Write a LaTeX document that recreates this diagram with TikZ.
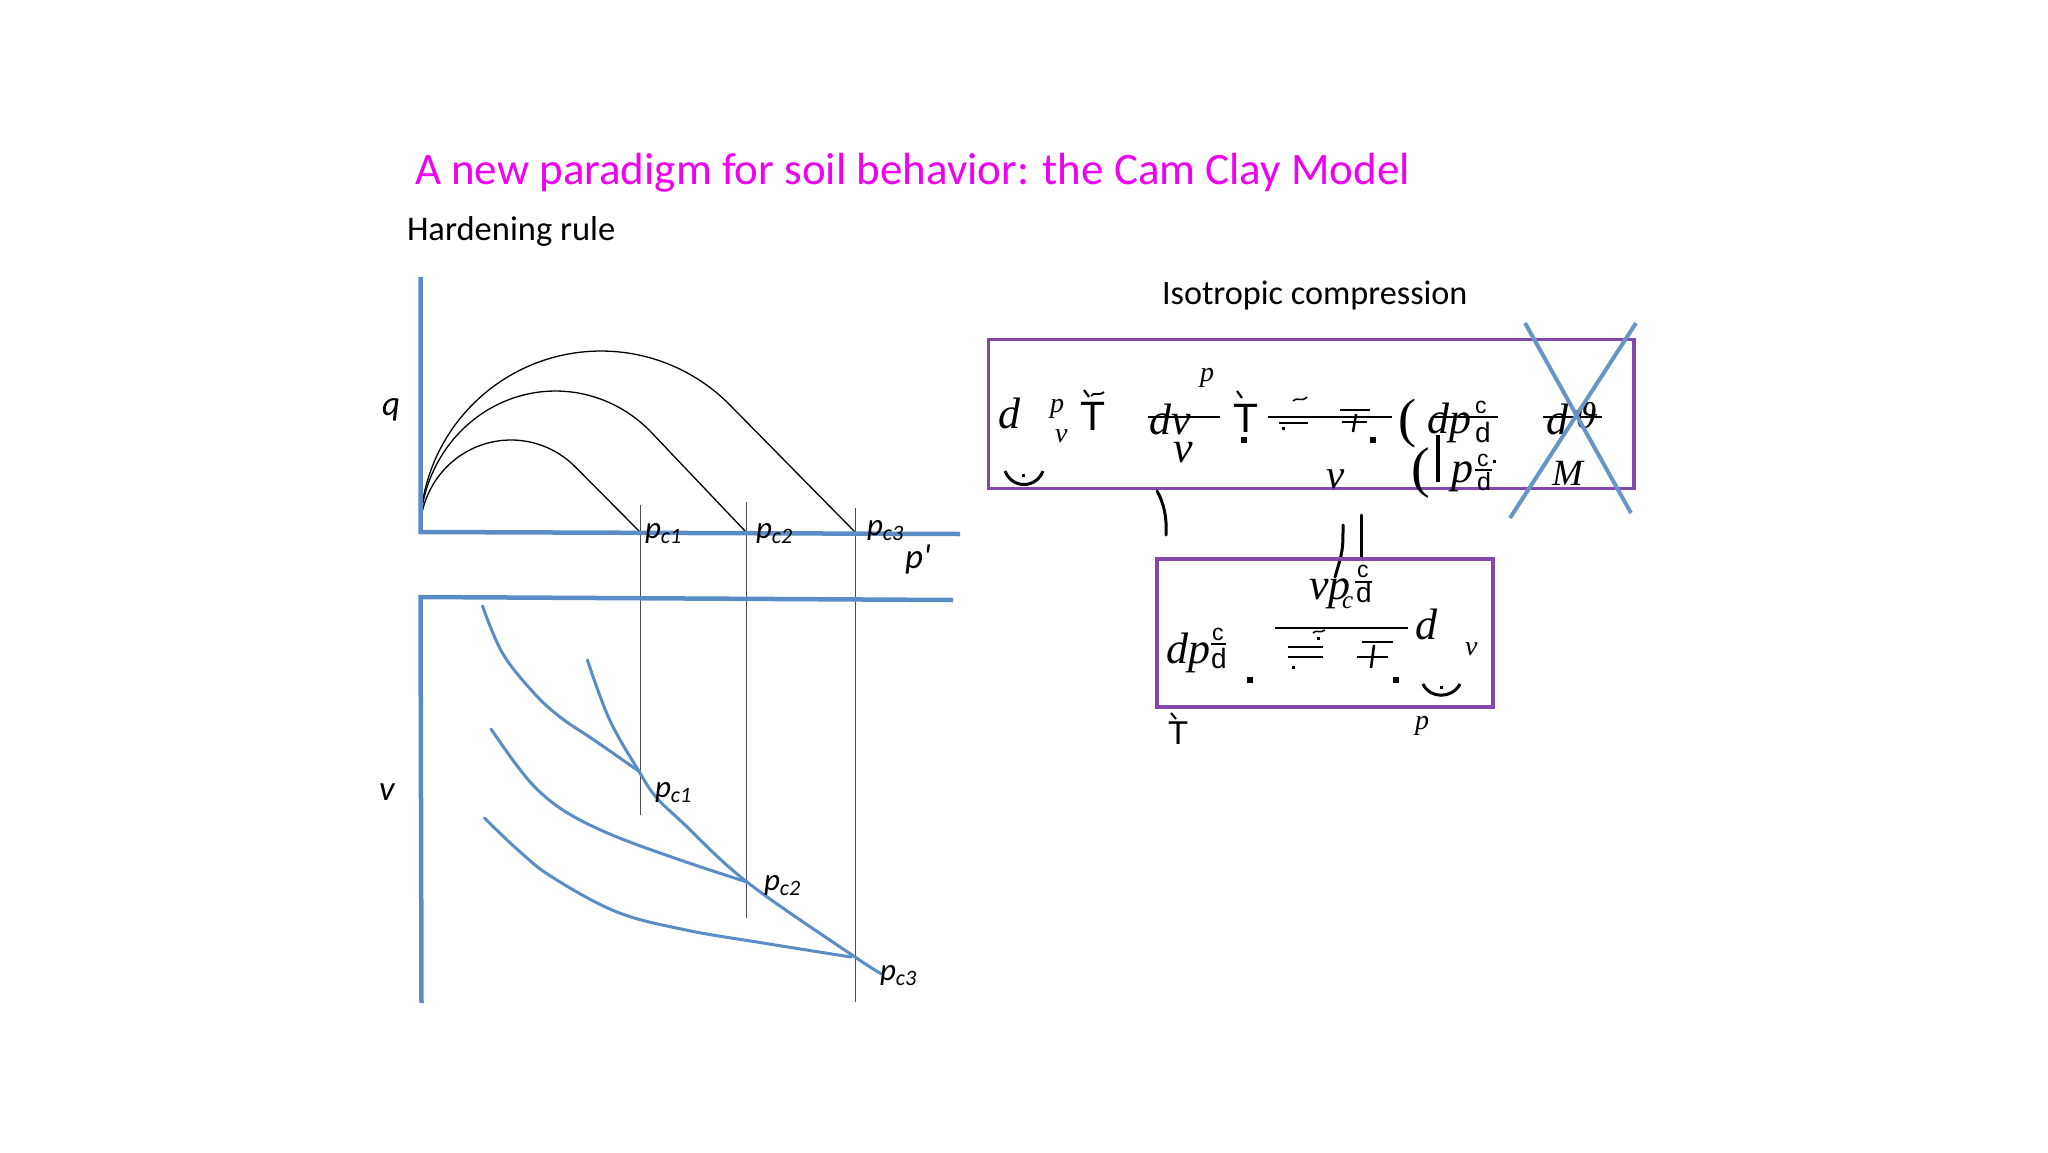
\documentclass[tikz,border=0pt]{standalone}
\usepackage{fontspec}
\setmainfont{Carlito}
\newfontfamily\mser{Liberation Serif}
\newfontfamily\msans{Liberation Sans}
\newfontfamily\dvser{DejaVu Serif}
\definecolor{axblue}{RGB}{91,140,197}
\definecolor{xblue}{RGB}{102,150,200}
\definecolor{boxpurple}{RGB}{132,72,172}
\definecolor{titlemag}{RGB}{240,0,240}
\newcommand\fz[1]{\fontsize{#1}{#1}\selectfont}
\newcommand\pcl[1]{\itshape p\raisebox{-5pt}{\fz{22}c#1}}
\tikzset{
  txt/.style={inner sep=0pt, outer sep=0pt, anchor=base west},
  mbig/.style={txt, font=\mser\itshape\fz{44}},
  msmall/.style={txt, font=\mser\itshape\fz{28}},
  tsans/.style={txt, font=\msans\fz{41}},
  csmall/.style={txt, font=\msans\fz{23}},
  dsmall/.style={txt, font=\msans\fz{28}},
  axisline/.style={draw=axblue, line width=4.5pt},
  thinline/.style={draw=black!70, line width=1pt},
  yieldcurve/.style={draw=black, line width=1.3pt},
  vcurve/.style={draw=axblue, line width=3pt, line cap=round},
  formbox/.style={draw=boxpurple, line width=3.5pt},
  fracline/.style={draw=black, line width=2pt},
  stroke/.style={draw=black, line width=3pt, line cap=round},
  crossline/.style={draw=xblue, line width=4pt},
  lbl/.style={txt, font=\itshape\fz{35}},
  pclbl/.style={txt, font=\fz{31}}
}
\begin{document}
\begin{tikzpicture}[x=1pt,y=-1pt]
\fill[white] (0,0) rectangle (2048,1152);
\useasboundingbox (0,0) rectangle (2048,1152);

% titles
\node[txt, font=\fz{45}, text=titlemag] (title) at (415,184) {A new paradigm for soil behavior: the Cam Clay Model};
\node[txt, font=\fz{34.5}] (hard) at (407,240) {Hardening rule};
\node[txt, font=\fz{34.2}] (iso) at (1162,304) {Isotropic compression};

% upper graph
\draw[thinline] (640,505) -- (640,815);
\draw[thinline] (746,502) -- (746,918);
\draw[thinline] (855,508) -- (855,1002);
\draw[yieldcurve] plot[domain=180:46, samples=60] ({511+91*cos(\x)}, {532-92*sin(\x)}) -- (640,532);
\draw[yieldcurve] plot[domain=180:46, samples=60] ({555.5+135.5*cos(\x)}, {532-141*sin(\x)}) -- (746,532);
\draw[yieldcurve] plot[domain=180:46, samples=60] ({601+181*cos(\x)}, {532-181*sin(\x)}) -- (855,532);
\coordinate (qtop) at (420.5,277);
\coordinate (orig) at (420.5,532);
\coordinate (pend) at (960,534);
\draw[axisline] (qtop) -- (orig) -- (pend);
\node[lbl] (qlab) at (382,415) {q};
\node[lbl] (plab) at (905,568) {p\textquotesingle};
\node[pclbl] (u1) at (645,538) {\pcl{1}};
\node[pclbl] (u2) at (756,538) {\pcl{2}};
\node[pclbl] (u3) at (867,535) {\pcl{3}};

% lower graph
\coordinate (ltop) at (420.5,597);
\coordinate (lbot) at (421.5,1003);
\coordinate (lright) at (953,600);
\draw[axisline] (lbot) -- (ltop) -- (lright);
\draw[vcurve] plot[smooth, tension=0.6] coordinates {(587.4,660) (609.7,720) (640,773) (656,797) (683,823) (747,882) (855,957) (882,974)};
\draw[vcurve] plot[smooth, tension=0.6] coordinates {(482.5,606) (502.4,653) (533,692) (560,717) (594,740) (640,772)};
\draw[vcurve] plot[smooth, tension=0.6] coordinates {(491,729) (518,767) (541,793) (571,815) (617,837) (686,862) (747,882)};
\draw[vcurve] plot[smooth, tension=0.6] coordinates {(484.4,818) (518,850) (552,877) (617,912) (686,930) (763,943) (851,957)};
\node[lbl] (vlab) at (379,800) {v};
\node[pclbl] (l1) at (655,797) {\pcl{1}};
\node[pclbl] (l2) at (764,890) {\pcl{2}};
\node[pclbl] (l3) at (880,980) {\pcl{3}};

% formula box 1
\draw[formbox] (988.6,339.6) rectangle (1633.8,488.4);
\node[mbig] (a1) at (998,428) {d};
\node[msmall] (a2) at (1050,412) {p};
\node[msmall] (a3) at (1055,442) {v};
\node[tsans] (a4) at (1080,430) {T};
\draw[line width=2.2pt] (1084,390) -- (1089,397);
\draw[line width=1.8pt] (1091,396) .. controls (1094,391) and (1098,397) .. (1104,392);
\draw[fracline] (1148,417) -- (1220,417);
\node[msmall] (a5) at (1200,381) {p};
\node[mbig] (a6) at (1149,434) {dv};
\node[mbig] (a7) at (1173,462) {v};
\node[tsans] (a8) at (1233,432) {T};
\draw[line width=2.2pt] (1237,391) -- (1242,398);
\fill (1241,437) rectangle (1247,443);
\draw[fracline] (1268,417) -- (1392,417);
\draw[line width=2.5pt] (1279,423) -- (1308,423);
\draw[line width=1.6pt] (1293,401) .. controls (1297,396) and (1301,403) .. (1307,397);
\fill (1282,427) rectangle (1285,430);
\draw[line width=2.5pt] (1340,410) -- (1370,410);
\draw[line width=2.5pt] (1342,422) -- (1367,422);
\draw[line width=2.5pt] (1356,414) -- (1353,432);
\fill (1370,437) rectangle (1376,443);
\node[txt, font=\mser\fz{54}] (a9) at (1398,436) {(};
\draw[fracline] (1432,417) -- (1498,417);
\node[mbig] (a10) at (1427,433) {dp};
\node[csmall] (a11) at (1475,413) {c};
\node[dsmall] (a12) at (1475,442) {d};
\node[txt, font=\mser\fz{56}] (a13) at (1411,486) {(};
\draw[line width=4pt] (1437.5,435) -- (1437.5,482);
\node[mbig] (a14) at (1451,482) {p};
\node[csmall] (a15) at (1477,466) {c};
\fill (1493,460) rectangle (1496,463);
\draw[line width=1.5pt] (1475,470) -- (1492,470);
\node[txt, font=\msans\fz{25}] (a16) at (1477,490) {d};
\draw[fracline] (1543,417) -- (1602,417);
\node[mbig] (a17) at (1546,434) {d};
\node[txt, font=\dvser\itshape\fz{34}] (a18) at (1574,428) {ϑ};
\node[txt, font=\mser\itshape\fz{37}] (a19) at (1552,485) {M};
\node[txt, font=\mser\itshape\fz{41}] (a20) at (1326,488) {v};
\draw[line width=3pt] (1005,471) .. controls (1012,489) and (1036,489) .. (1043,471);
\fill (1021.5,473.5) rectangle (1024.5,476.5);
\coordinate (xa1) at (1525,323);
\coordinate (xa2) at (1631,513);
\coordinate (xb1) at (1636,323);
\coordinate (xb2) at (1510,518);
\draw[crossline] (xa1) -- (xa2);
\draw[crossline] (xb1) -- (xb2);

% strokes between boxes
\draw[stroke] (1157,491) .. controls (1164,503) and (1167,518) .. (1166,535);
\draw[stroke] (1343,525) .. controls (1343,550) .. (1335,577);
\draw[stroke] (1361.7,515) -- (1361.7,557);

% formula box 2
\draw[formbox] (1157,559) rectangle (1493,707);
\node[mbig] (b1) at (1309,599) {vp};
\node[txt, font=\mser\itshape\fz{25}] (b2) at (1342,608) {c};
\node[csmall] (b3) at (1357,577) {c};
\draw[line width=1.5pt] (1355,582) -- (1372,582);
\node[dsmall] (b4) at (1356,602) {d};
\draw[fracline] (1275,628) -- (1408,628);
\node[mbig] (b5) at (1415,639) {d};
\node[msmall] (b6) at (1465,655) {v};
\node[mbig] (b7) at (1166,663) {dp};
\node[csmall] (b8) at (1212,640) {c};
\draw[line width=1.5pt] (1211,644) -- (1226,644);
\node[dsmall] (b9) at (1211,668) {d};
\fill (1247,677) rectangle (1253,683);
\fill (1393,677) rectangle (1399,683);
\draw[line width=2.5pt] (1288,647) -- (1323,647);
\draw[line width=2.5pt] (1288,657) -- (1323,657);
\draw[line width=1.5pt] (1313,633) .. controls (1316,629) and (1320,634) .. (1325,630);
\fill (1316.5,636.5) rectangle (1319.5,639.5);
\fill (1291.5,665.5) rectangle (1294.5,668.5);
\draw[line width=2.5pt] (1362,642) -- (1393,642);
\draw[line width=2.5pt] (1357,657) -- (1388,657);
\draw[line width=2.5pt] (1374,645) -- (1371,668);
\draw[line width=3pt] (1423,684) .. controls (1430,699) and (1452,699) .. (1460,684);
\fill (1439.5,685.5) rectangle (1442.5,688.5);
\node[msmall] (b10) at (1415,729) {p};
\node[txt, font=\msans\fz{33}] (b11) at (1168,744) {T};
\draw[line width=2pt] (1171,713) -- (1176,719);
\end{tikzpicture}
\end{document}
